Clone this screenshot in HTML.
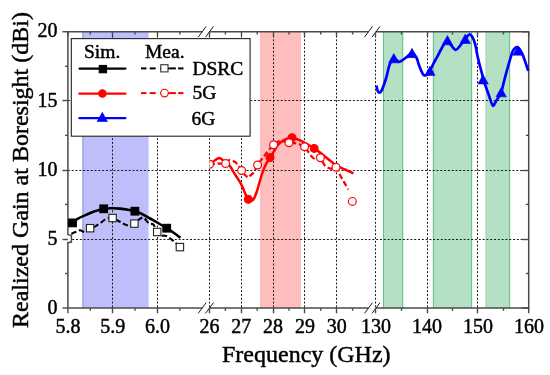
<!DOCTYPE html>
<html><head><meta charset="utf-8"><style>
html,body{margin:0;padding:0;background:#fff;overflow:hidden;}
svg{display:block;}
.t{font-family:"Liberation Serif","Times New Roman",serif;fill:#000;stroke:#000;stroke-width:0.45px;}
</style></head><body>
<svg width="550" height="375" viewBox="0 0 550 375">
<defs><clipPath id="c2"><rect x="209.5" y="0" width="159.0" height="375"/></clipPath></defs>
<rect width="550" height="375" fill="#fff"/>
<rect x="82.2" y="31.75" width="66.39999999999999" height="276.25" fill="#bebefa"/>
<line x1="83.0" y1="31.75" x2="83.0" y2="308.0" stroke="#9898d2" stroke-width="1"/>
<rect x="260.4" y="31.75" width="40.60000000000002" height="276.25" fill="#ffbebe"/>
<line x1="261" y1="31.75" x2="261" y2="308.0" stroke="#f9b0b0" stroke-width="1"/>
<rect x="383.0" y="31.75" width="20.19999999999999" height="276.25" fill="#b4e1c3"/>
<line x1="383.5" y1="31.75" x2="383.5" y2="308.0" stroke="#5ec485" stroke-width="1"/>
<line x1="402.7" y1="31.75" x2="402.7" y2="308.0" stroke="#5ec485" stroke-width="1"/>
<rect x="432.9" y="31.75" width="39.200000000000045" height="276.25" fill="#b4e1c3"/>
<line x1="433.4" y1="31.75" x2="433.4" y2="308.0" stroke="#5ec485" stroke-width="1"/>
<line x1="471.6" y1="31.75" x2="471.6" y2="308.0" stroke="#5ec485" stroke-width="1"/>
<rect x="485.6" y="31.75" width="24.5" height="276.25" fill="#b4e1c3"/>
<line x1="486.1" y1="31.75" x2="486.1" y2="308.0" stroke="#9fd8b2" stroke-width="1"/>
<line x1="509.6" y1="31.75" x2="509.6" y2="308.0" stroke="#5ec485" stroke-width="1"/>
<line x1="72.2" y1="239.5" x2="528.7" y2="239.5" stroke="#1a1a1a" stroke-width="1" stroke-dasharray="2 1.8"/>
<line x1="67.9" y1="170.5" x2="528.7" y2="170.5" stroke="#1a1a1a" stroke-width="1" stroke-dasharray="2 1.8"/>
<line x1="67.9" y1="100.5" x2="528.7" y2="100.5" stroke="#1a1a1a" stroke-width="1" stroke-dasharray="2 1.8"/>
<line x1="112.5" y1="31.75" x2="112.5" y2="308.0" stroke="#1a1a1a" stroke-width="1" stroke-dasharray="2 1.8"/>
<line x1="157.5" y1="31.75" x2="157.5" y2="308.0" stroke="#1a1a1a" stroke-width="1" stroke-dasharray="2 1.8"/>
<line x1="209.5" y1="31.75" x2="209.5" y2="308.0" stroke="#1a1a1a" stroke-width="1" stroke-dasharray="2 1.8"/>
<line x1="241.5" y1="31.75" x2="241.5" y2="308.0" stroke="#1a1a1a" stroke-width="1" stroke-dasharray="2 1.8"/>
<line x1="273.5" y1="31.75" x2="273.5" y2="308.0" stroke="#1a1a1a" stroke-width="1" stroke-dasharray="2 1.8"/>
<line x1="304.5" y1="31.75" x2="304.5" y2="308.0" stroke="#1a1a1a" stroke-width="1" stroke-dasharray="2 1.8"/>
<line x1="336.5" y1="31.75" x2="336.5" y2="308.0" stroke="#1a1a1a" stroke-width="1" stroke-dasharray="2 1.8"/>
<line x1="375.5" y1="31.75" x2="375.5" y2="308.0" stroke="#1a1a1a" stroke-width="1" stroke-dasharray="2 1.8"/>
<line x1="427.5" y1="31.75" x2="427.5" y2="308.0" stroke="#1a1a1a" stroke-width="1" stroke-dasharray="2 1.8"/>
<line x1="477.5" y1="31.75" x2="477.5" y2="308.0" stroke="#1a1a1a" stroke-width="1" stroke-dasharray="2 1.8"/>
<path d="M67.9,31.75 V234.7 L71.4,235.3 V242.1 L67.9,242.7 V308.0" fill="none" stroke="#4a4a4a" stroke-width="1.5"/>
<line x1="528.7" y1="31.75" x2="528.7" y2="308.0" stroke="#4a4a4a" stroke-width="1.5"/>
<line x1="67.25" y1="31.75" x2="202.20" y2="31.75" stroke="#4a4a4a" stroke-width="1.5"/>
<line x1="67.25" y1="308.0" x2="202.20" y2="308.0" stroke="#4a4a4a" stroke-width="1.5"/>
<line x1="209.50" y1="31.75" x2="368.50" y2="31.75" stroke="#4a4a4a" stroke-width="1.5"/>
<line x1="209.50" y1="308.0" x2="368.50" y2="308.0" stroke="#4a4a4a" stroke-width="1.5"/>
<line x1="376.00" y1="31.75" x2="529.35" y2="31.75" stroke="#4a4a4a" stroke-width="1.5"/>
<line x1="376.00" y1="308.0" x2="529.35" y2="308.0" stroke="#4a4a4a" stroke-width="1.5"/>
<line x1="198.20" y1="37.15" x2="206.20" y2="26.35" stroke="#1a1a1a" stroke-width="1.0"/>
<line x1="198.20" y1="313.40" x2="206.20" y2="302.60" stroke="#1a1a1a" stroke-width="1.0"/>
<line x1="205.50" y1="37.15" x2="213.50" y2="26.35" stroke="#1a1a1a" stroke-width="1.0"/>
<line x1="205.50" y1="313.40" x2="213.50" y2="302.60" stroke="#1a1a1a" stroke-width="1.0"/>
<line x1="364.50" y1="37.15" x2="372.50" y2="26.35" stroke="#1a1a1a" stroke-width="1.0"/>
<line x1="364.50" y1="313.40" x2="372.50" y2="302.60" stroke="#1a1a1a" stroke-width="1.0"/>
<line x1="372.00" y1="37.15" x2="380.00" y2="26.35" stroke="#1a1a1a" stroke-width="1.0"/>
<line x1="372.00" y1="313.40" x2="380.00" y2="302.60" stroke="#1a1a1a" stroke-width="1.0"/>
<line x1="67.90" y1="308.0" x2="67.90" y2="313.3" stroke="#4a4a4a" stroke-width="1.4"/>
<line x1="67.90" y1="31.75" x2="67.90" y2="36.25" stroke="#4a4a4a" stroke-width="1.4"/>
<line x1="112.50" y1="308.0" x2="112.50" y2="313.3" stroke="#4a4a4a" stroke-width="1.4"/>
<line x1="112.50" y1="31.75" x2="112.50" y2="36.25" stroke="#4a4a4a" stroke-width="1.4"/>
<line x1="157.50" y1="308.0" x2="157.50" y2="313.3" stroke="#4a4a4a" stroke-width="1.4"/>
<line x1="157.50" y1="31.75" x2="157.50" y2="36.25" stroke="#4a4a4a" stroke-width="1.4"/>
<line x1="209.50" y1="308.0" x2="209.50" y2="313.3" stroke="#4a4a4a" stroke-width="1.4"/>
<line x1="209.50" y1="31.75" x2="209.50" y2="36.25" stroke="#4a4a4a" stroke-width="1.4"/>
<line x1="241.50" y1="308.0" x2="241.50" y2="313.3" stroke="#4a4a4a" stroke-width="1.4"/>
<line x1="241.50" y1="31.75" x2="241.50" y2="36.25" stroke="#4a4a4a" stroke-width="1.4"/>
<line x1="273.50" y1="308.0" x2="273.50" y2="313.3" stroke="#4a4a4a" stroke-width="1.4"/>
<line x1="273.50" y1="31.75" x2="273.50" y2="36.25" stroke="#4a4a4a" stroke-width="1.4"/>
<line x1="304.50" y1="308.0" x2="304.50" y2="313.3" stroke="#4a4a4a" stroke-width="1.4"/>
<line x1="304.50" y1="31.75" x2="304.50" y2="36.25" stroke="#4a4a4a" stroke-width="1.4"/>
<line x1="336.50" y1="308.0" x2="336.50" y2="313.3" stroke="#4a4a4a" stroke-width="1.4"/>
<line x1="336.50" y1="31.75" x2="336.50" y2="36.25" stroke="#4a4a4a" stroke-width="1.4"/>
<line x1="375.50" y1="308.0" x2="375.50" y2="313.3" stroke="#4a4a4a" stroke-width="1.4"/>
<line x1="375.50" y1="31.75" x2="375.50" y2="36.25" stroke="#4a4a4a" stroke-width="1.4"/>
<line x1="427.50" y1="308.0" x2="427.50" y2="313.3" stroke="#4a4a4a" stroke-width="1.4"/>
<line x1="427.50" y1="31.75" x2="427.50" y2="36.25" stroke="#4a4a4a" stroke-width="1.4"/>
<line x1="477.50" y1="308.0" x2="477.50" y2="313.3" stroke="#4a4a4a" stroke-width="1.4"/>
<line x1="477.50" y1="31.75" x2="477.50" y2="36.25" stroke="#4a4a4a" stroke-width="1.4"/>
<line x1="528.70" y1="308.0" x2="528.70" y2="313.3" stroke="#4a4a4a" stroke-width="1.4"/>
<line x1="528.70" y1="31.75" x2="528.70" y2="36.25" stroke="#4a4a4a" stroke-width="1.4"/>
<line x1="90.28" y1="308.0" x2="90.28" y2="310.8" stroke="#4a4a4a" stroke-width="1.4"/>
<line x1="90.28" y1="31.75" x2="90.28" y2="34.55" stroke="#4a4a4a" stroke-width="1.4"/>
<line x1="135.05" y1="308.0" x2="135.05" y2="310.8" stroke="#4a4a4a" stroke-width="1.4"/>
<line x1="135.05" y1="31.75" x2="135.05" y2="34.55" stroke="#4a4a4a" stroke-width="1.4"/>
<line x1="179.82" y1="308.0" x2="179.82" y2="310.8" stroke="#4a4a4a" stroke-width="1.4"/>
<line x1="179.82" y1="31.75" x2="179.82" y2="34.55" stroke="#4a4a4a" stroke-width="1.4"/>
<line x1="225.40" y1="308.0" x2="225.40" y2="310.8" stroke="#4a4a4a" stroke-width="1.4"/>
<line x1="225.40" y1="31.75" x2="225.40" y2="34.55" stroke="#4a4a4a" stroke-width="1.4"/>
<line x1="257.20" y1="308.0" x2="257.20" y2="310.8" stroke="#4a4a4a" stroke-width="1.4"/>
<line x1="257.20" y1="31.75" x2="257.20" y2="34.55" stroke="#4a4a4a" stroke-width="1.4"/>
<line x1="289.00" y1="308.0" x2="289.00" y2="310.8" stroke="#4a4a4a" stroke-width="1.4"/>
<line x1="289.00" y1="31.75" x2="289.00" y2="34.55" stroke="#4a4a4a" stroke-width="1.4"/>
<line x1="320.80" y1="308.0" x2="320.80" y2="310.8" stroke="#4a4a4a" stroke-width="1.4"/>
<line x1="320.80" y1="31.75" x2="320.80" y2="34.55" stroke="#4a4a4a" stroke-width="1.4"/>
<line x1="352.60" y1="308.0" x2="352.60" y2="310.8" stroke="#4a4a4a" stroke-width="1.4"/>
<line x1="352.60" y1="31.75" x2="352.60" y2="34.55" stroke="#4a4a4a" stroke-width="1.4"/>
<line x1="401.50" y1="308.0" x2="401.50" y2="310.8" stroke="#4a4a4a" stroke-width="1.4"/>
<line x1="401.50" y1="31.75" x2="401.50" y2="34.55" stroke="#4a4a4a" stroke-width="1.4"/>
<line x1="452.50" y1="308.0" x2="452.50" y2="310.8" stroke="#4a4a4a" stroke-width="1.4"/>
<line x1="452.50" y1="31.75" x2="452.50" y2="34.55" stroke="#4a4a4a" stroke-width="1.4"/>
<line x1="503.50" y1="308.0" x2="503.50" y2="310.8" stroke="#4a4a4a" stroke-width="1.4"/>
<line x1="503.50" y1="31.75" x2="503.50" y2="34.55" stroke="#4a4a4a" stroke-width="1.4"/>
<line x1="62.400000000000006" y1="308.00" x2="67.9" y2="308.00" stroke="#4a4a4a" stroke-width="1.4"/>
<line x1="522.2" y1="308.00" x2="528.7" y2="308.00" stroke="#4a4a4a" stroke-width="1.4"/>
<line x1="62.400000000000006" y1="239.50" x2="67.9" y2="239.50" stroke="#4a4a4a" stroke-width="1.4"/>
<line x1="522.2" y1="239.50" x2="528.7" y2="239.50" stroke="#4a4a4a" stroke-width="1.4"/>
<line x1="62.400000000000006" y1="170.50" x2="67.9" y2="170.50" stroke="#4a4a4a" stroke-width="1.4"/>
<line x1="522.2" y1="170.50" x2="528.7" y2="170.50" stroke="#4a4a4a" stroke-width="1.4"/>
<line x1="62.400000000000006" y1="100.50" x2="67.9" y2="100.50" stroke="#4a4a4a" stroke-width="1.4"/>
<line x1="522.2" y1="100.50" x2="528.7" y2="100.50" stroke="#4a4a4a" stroke-width="1.4"/>
<line x1="62.400000000000006" y1="31.75" x2="67.9" y2="31.75" stroke="#4a4a4a" stroke-width="1.4"/>
<line x1="522.2" y1="31.75" x2="528.7" y2="31.75" stroke="#4a4a4a" stroke-width="1.4"/>
<line x1="65.10000000000001" y1="273.47" x2="67.9" y2="273.47" stroke="#4a4a4a" stroke-width="1.4"/>
<line x1="525.9000000000001" y1="273.47" x2="528.7" y2="273.47" stroke="#4a4a4a" stroke-width="1.4"/>
<line x1="65.10000000000001" y1="204.41" x2="67.9" y2="204.41" stroke="#4a4a4a" stroke-width="1.4"/>
<line x1="525.9000000000001" y1="204.41" x2="528.7" y2="204.41" stroke="#4a4a4a" stroke-width="1.4"/>
<line x1="65.10000000000001" y1="135.34" x2="67.9" y2="135.34" stroke="#4a4a4a" stroke-width="1.4"/>
<line x1="525.9000000000001" y1="135.34" x2="528.7" y2="135.34" stroke="#4a4a4a" stroke-width="1.4"/>
<line x1="65.10000000000001" y1="66.28" x2="67.9" y2="66.28" stroke="#4a4a4a" stroke-width="1.4"/>
<line x1="525.9000000000001" y1="66.28" x2="528.7" y2="66.28" stroke="#4a4a4a" stroke-width="1.4"/>
<path d="M71.30,233.80 C72.00,233.50 74.05,232.60 75.50,232.00 C76.95,231.40 78.42,230.20 80.00,230.20 C81.58,230.20 83.32,232.33 85.00,232.00 C86.68,231.67 88.43,229.10 90.10,228.20 C91.77,227.30 93.35,227.42 95.00,226.60 C96.65,225.78 98.10,224.60 100.00,223.30 C101.90,222.00 104.30,219.68 106.40,218.80 C108.50,217.92 110.67,217.68 112.60,218.00 C114.53,218.32 116.27,219.78 118.00,220.70 C119.73,221.62 121.50,222.75 123.00,223.50 C124.50,224.25 125.10,225.18 127.00,225.20 C128.90,225.22 132.40,224.55 134.40,223.60 C136.40,222.65 137.48,220.50 139.00,219.50 C140.52,218.50 142.17,217.27 143.50,217.60 C144.83,217.93 145.92,220.47 147.00,221.50 C148.08,222.53 148.92,223.28 150.00,223.80 C151.08,224.32 152.30,223.23 153.50,224.60 C154.70,225.97 155.78,230.18 157.20,232.00 C158.62,233.82 160.47,234.83 162.00,235.50 C163.53,236.17 165.07,235.50 166.40,236.00 C167.73,236.50 168.73,237.58 170.00,238.50 C171.27,239.42 172.35,240.07 174.00,241.50 C175.65,242.93 178.92,246.17 179.90,247.10" fill="none" stroke="#000" stroke-width="2.1" stroke-dasharray="5.5 2.8"/>
<path d="M72.50,222.90 C73.42,222.20 75.75,220.03 78.00,218.70 C80.25,217.37 83.33,216.08 86.00,214.90 C88.67,213.72 91.05,212.63 94.00,211.60 C96.95,210.57 100.70,209.27 103.70,208.70 C106.70,208.13 109.28,208.22 112.00,208.20 C114.72,208.18 117.33,208.35 120.00,208.60 C122.67,208.85 125.52,209.25 128.00,209.70 C130.48,210.15 132.57,210.58 134.90,211.30 C137.23,212.02 139.48,212.80 142.00,214.00 C144.52,215.20 147.33,217.00 150.00,218.50 C152.67,220.00 155.22,221.38 158.00,223.00 C160.78,224.62 164.03,226.53 166.70,228.20 C169.37,229.87 171.70,231.40 174.00,233.00 C176.30,234.60 179.42,237.00 180.50,237.80" fill="none" stroke="#000" stroke-width="2.6"/>
<rect x="68.70" y="219.10" width="7.6" height="7.6" fill="#000" stroke="#000" stroke-width="1.2"/>
<rect x="99.90" y="205.00" width="7.6" height="7.6" fill="#000" stroke="#000" stroke-width="1.2"/>
<rect x="131.10" y="207.40" width="7.6" height="7.6" fill="#000" stroke="#000" stroke-width="1.2"/>
<rect x="162.90" y="224.40" width="7.6" height="7.6" fill="#000" stroke="#000" stroke-width="1.2"/>
<rect x="86.40" y="224.50" width="7.4" height="7.4" fill="#fff" stroke="#222" stroke-width="1.1"/>
<rect x="108.90" y="214.30" width="7.4" height="7.4" fill="#fff" stroke="#222" stroke-width="1.1"/>
<rect x="130.70" y="219.90" width="7.4" height="7.4" fill="#fff" stroke="#222" stroke-width="1.1"/>
<rect x="153.50" y="228.30" width="7.4" height="7.4" fill="#fff" stroke="#222" stroke-width="1.1"/>
<rect x="176.20" y="243.40" width="7.4" height="7.4" fill="#fff" stroke="#222" stroke-width="1.1"/>
<g clip-path="url(#c2)">
<path d="M209.50,164.40 C210.75,164.25 214.32,163.63 217.00,163.50 C219.68,163.37 223.52,164.18 225.60,163.60 C227.68,163.02 228.00,160.30 229.50,160.00 C231.00,159.70 233.15,160.93 234.60,161.80 C236.05,162.67 237.07,163.73 238.20,165.20 C239.33,166.67 240.43,169.13 241.40,170.60 C242.37,172.07 242.87,172.87 244.00,174.00 C245.13,175.13 247.17,177.13 248.20,177.40 C249.23,177.67 249.27,176.47 250.20,175.60 C251.13,174.73 252.57,173.97 253.80,172.20 C255.03,170.43 255.73,167.87 257.60,165.00 C259.47,162.13 262.33,158.37 265.00,155.00 C267.67,151.63 270.93,147.13 273.60,144.80 C276.27,142.47 278.43,141.37 281.00,141.00 C283.57,140.63 286.33,142.18 289.00,142.60 C291.67,143.02 294.40,142.80 297.00,143.50 C299.60,144.20 302.63,145.30 304.60,146.80 C306.57,148.30 307.30,150.58 308.80,152.50 C310.30,154.42 312.23,157.72 313.60,158.30 C314.97,158.88 315.87,156.08 317.00,156.00 C318.13,155.92 319.15,156.30 320.40,157.80 C321.65,159.30 322.80,163.20 324.50,165.00 C326.20,166.80 328.68,168.23 330.60,168.60 C332.52,168.97 334.43,166.13 336.00,167.20 C337.57,168.27 338.67,172.53 340.00,175.00 C341.33,177.47 342.62,179.58 344.00,182.00 C345.38,184.42 347.58,188.25 348.30,189.50" fill="none" stroke="#ff0000" stroke-width="2.3" stroke-dasharray="5.5 2.8" stroke-dashoffset="0"/>
<path d="M209.50,163.50 C210.25,163.08 212.37,161.93 214.00,161.00 C215.63,160.07 217.63,157.85 219.30,157.90 C220.97,157.95 222.30,160.03 224.00,161.30 C225.70,162.57 227.60,163.22 229.50,165.50 C231.40,167.78 233.48,171.95 235.40,175.00 C237.32,178.05 239.40,180.80 241.00,183.80 C242.60,186.80 243.83,190.42 245.00,193.00 C246.17,195.58 246.93,198.03 248.00,199.30 C249.07,200.57 250.40,200.73 251.40,200.60 C252.40,200.47 253.07,200.10 254.00,198.50 C254.93,196.90 256.07,193.75 257.00,191.00 C257.93,188.25 258.67,185.10 259.60,182.00 C260.53,178.90 261.53,175.40 262.60,172.40 C263.67,169.40 264.77,166.43 266.00,164.00 C267.23,161.57 267.93,161.05 270.00,157.80 C272.07,154.55 275.90,147.53 278.40,144.50 C280.90,141.47 282.73,140.75 285.00,139.60 C287.27,138.45 289.50,137.47 292.00,137.60 C294.50,137.73 297.50,139.30 300.00,140.40 C302.50,141.50 304.63,142.87 307.00,144.20 C309.37,145.53 311.20,146.35 314.20,148.40 C317.20,150.45 321.37,153.68 325.00,156.50 C328.63,159.32 332.67,163.13 336.00,165.30 C339.33,167.47 342.08,168.17 345.00,169.50 C347.92,170.83 352.08,172.67 353.50,173.30" fill="none" stroke="#ff0000" stroke-width="2.5"/>
<circle cx="248.30" cy="199.30" r="3.9" fill="#ff0000" stroke="#ff0000" stroke-width="1.2"/>
<circle cx="270.00" cy="157.60" r="3.9" fill="#ff0000" stroke="#ff0000" stroke-width="1.2"/>
<circle cx="292.00" cy="137.70" r="3.9" fill="#ff0000" stroke="#ff0000" stroke-width="1.2"/>
<circle cx="314.20" cy="148.40" r="3.9" fill="#ff0000" stroke="#ff0000" stroke-width="1.2"/>
<circle cx="209.50" cy="164.20" r="3.9" fill="#fff" stroke="#ff0000" stroke-width="1.2"/>
<circle cx="225.60" cy="163.60" r="3.9" fill="#fff" stroke="#ff0000" stroke-width="1.2"/>
<circle cx="241.60" cy="170.50" r="3.9" fill="#fff" stroke="#ff0000" stroke-width="1.2"/>
<circle cx="257.60" cy="165.00" r="3.9" fill="#fff" stroke="#ff0000" stroke-width="1.2"/>
<circle cx="273.60" cy="144.80" r="3.9" fill="#fff" stroke="#ff0000" stroke-width="1.2"/>
<circle cx="289.00" cy="142.70" r="3.9" fill="#fff" stroke="#ff0000" stroke-width="1.2"/>
<circle cx="304.60" cy="146.80" r="3.9" fill="#fff" stroke="#ff0000" stroke-width="1.2"/>
<circle cx="320.40" cy="157.80" r="3.9" fill="#fff" stroke="#ff0000" stroke-width="1.2"/>
<circle cx="336.00" cy="167.20" r="3.9" fill="#fff" stroke="#ff0000" stroke-width="1.2"/>
<circle cx="352.30" cy="201.40" r="3.9" fill="#fff" stroke="#ff0000" stroke-width="1.2"/>
</g>
<path d="M376.40,85.70 C376.67,86.67 377.20,90.57 378.00,91.50 C378.80,92.43 379.87,93.47 381.20,91.30 C382.53,89.13 384.62,82.88 386.00,78.50 C387.38,74.12 388.20,68.33 389.50,65.00 C390.80,61.67 392.28,59.03 393.80,58.50 C395.32,57.97 397.20,61.48 398.60,61.80 C400.00,62.12 400.80,61.23 402.20,60.40 C403.60,59.57 405.37,58.03 407.00,56.80 C408.63,55.57 410.40,52.80 412.00,53.00 C413.60,53.20 415.43,55.97 416.60,58.00 C417.77,60.03 418.00,62.60 419.00,65.20 C420.00,67.80 421.70,71.90 422.60,73.60 C423.50,75.30 423.60,75.23 424.40,75.40 C425.20,75.57 426.47,75.40 427.40,74.60 C428.33,73.80 428.90,72.62 430.00,70.60 C431.10,68.58 432.73,64.90 434.00,62.50 C435.27,60.10 436.43,58.37 437.60,56.20 C438.77,54.03 439.87,51.62 441.00,49.50 C442.13,47.38 443.33,45.00 444.40,43.50 C445.47,42.00 446.30,40.25 447.40,40.50 C448.50,40.75 449.60,43.43 451.00,45.00 C452.40,46.57 454.25,49.83 455.80,49.90 C457.35,49.97 458.73,47.22 460.30,45.40 C461.87,43.58 463.62,40.83 465.20,39.00 C466.78,37.17 468.40,34.32 469.80,34.40 C471.20,34.48 472.60,37.40 473.60,39.50 C474.60,41.60 475.18,44.42 475.80,47.00 C476.42,49.58 476.80,52.58 477.30,55.00 C477.80,57.42 478.25,59.25 478.80,61.50 C479.35,63.75 480.03,66.33 480.60,68.50 C481.17,70.67 481.75,72.70 482.20,74.50 C482.65,76.30 482.78,77.50 483.30,79.30 C483.82,81.10 484.40,82.73 485.30,85.30 C486.20,87.87 487.47,91.35 488.70,94.70 C489.93,98.05 491.48,104.30 492.70,105.40 C493.92,106.50 494.58,103.48 496.00,101.30 C497.42,99.12 499.87,95.63 501.20,92.30 C502.53,88.97 502.87,85.57 504.00,81.30 C505.13,77.03 506.55,71.70 508.00,66.70 C509.45,61.70 511.37,54.53 512.70,51.30 C514.03,48.07 515.12,47.92 516.00,47.30 C516.88,46.68 517.45,47.37 518.00,47.60 C518.55,47.83 518.52,47.52 519.30,48.70 C520.08,49.88 521.22,51.03 522.70,54.70 C524.18,58.37 527.28,68.03 528.20,70.70" fill="none" stroke="#0000ff" stroke-width="2.7" stroke-linejoin="round"/>
<polygon points="388.60,62.85 399.00,62.85 393.80,53.55" fill="#0000ff" stroke="#0000ff" stroke-width="0.6" stroke-linejoin="round"/>
<polygon points="406.80,57.65 417.20,57.65 412.00,48.35" fill="#0000ff" stroke="#0000ff" stroke-width="0.6" stroke-linejoin="round"/>
<polygon points="424.80,75.45 435.20,75.45 430.00,66.15" fill="#0000ff" stroke="#0000ff" stroke-width="0.6" stroke-linejoin="round"/>
<polygon points="442.20,44.85 452.60,44.85 447.40,35.55" fill="#0000ff" stroke="#0000ff" stroke-width="0.6" stroke-linejoin="round"/>
<polygon points="460.00,43.45 470.40,43.45 465.20,34.15" fill="#0000ff" stroke="#0000ff" stroke-width="0.6" stroke-linejoin="round"/>
<polygon points="477.90,83.95 488.30,83.95 483.10,74.65" fill="#0000ff" stroke="#0000ff" stroke-width="0.6" stroke-linejoin="round"/>
<polygon points="496.00,96.85 506.40,96.85 501.20,87.55" fill="#0000ff" stroke="#0000ff" stroke-width="0.6" stroke-linejoin="round"/>
<polygon points="512.80,55.15 523.20,55.15 518.00,45.85" fill="#0000ff" stroke="#0000ff" stroke-width="0.6" stroke-linejoin="round"/>
<rect x="71.3" y="38.6" width="178.8" height="97.6" fill="#fff" stroke="#2a2a2a" stroke-width="1.15"/>
<text x="84" y="58.1" font-size="19.5" class="t">Sim.</text>
<text x="145" y="57.9" font-size="19.5" class="t">Mea.</text>
<text x="192.4" y="75" font-size="19.5" class="t">DSRC</text>
<text x="192.6" y="99.4" font-size="19.5" class="t">5G</text>
<text x="191.6" y="124.8" font-size="19.5" class="t">6G</text>
<line x1="79.6" y1="68.6" x2="125.4" y2="68.6" stroke="#000" stroke-width="2.3" stroke-linecap="round"/>
<rect x="99.30" y="65.50" width="7.2" height="7.2" fill="#000" stroke="#000" stroke-width="1.2"/>
<line x1="141" y1="68.4" x2="146.5" y2="68.4" stroke="#000" stroke-width="2"/>
<line x1="149.7" y1="68.4" x2="155.7" y2="68.4" stroke="#000" stroke-width="2"/>
<line x1="160" y1="68.4" x2="169.9" y2="68.4" stroke="#000" stroke-width="2"/>
<line x1="169.9" y1="68.4" x2="175.9" y2="68.4" stroke="#000" stroke-width="2"/>
<line x1="178.1" y1="68.4" x2="183.5" y2="68.4" stroke="#000" stroke-width="2"/>
<rect x="160.80" y="64.70" width="7.2" height="7.2" fill="#fff" stroke="#333" stroke-width="1.1"/>
<line x1="79.4" y1="93.7" x2="125.4" y2="93.7" stroke="#ff0000" stroke-width="2.3" stroke-linecap="round"/>
<circle cx="102.40" cy="93.50" r="3.7" fill="#ff0000" stroke="#ff0000" stroke-width="1.2"/>
<line x1="141" y1="93.1" x2="146.5" y2="93.1" stroke="#ff0000" stroke-width="2"/>
<line x1="149.7" y1="93.1" x2="155.7" y2="93.1" stroke="#ff0000" stroke-width="2"/>
<line x1="160" y1="93.1" x2="169.9" y2="93.1" stroke="#ff0000" stroke-width="2"/>
<line x1="169.9" y1="93.1" x2="175.9" y2="93.1" stroke="#ff0000" stroke-width="2"/>
<line x1="178.1" y1="93.1" x2="183.5" y2="93.1" stroke="#ff0000" stroke-width="2"/>
<circle cx="164.50" cy="93.10" r="3.8" fill="#fff" stroke="#ff0000" stroke-width="1.1"/>
<line x1="79.4" y1="118.1" x2="125.4" y2="118.1" stroke="#0000ff" stroke-width="2.3" stroke-linecap="round"/>
<polygon points="97.10,121.50 107.50,121.50 102.30,112.30" fill="#0000ff" stroke="#0000ff" stroke-width="0.6" stroke-linejoin="round"/>
<text x="67.90" y="333.0" font-size="20" text-anchor="middle" class="t">5.8</text>
<text x="112.67" y="333.0" font-size="20" text-anchor="middle" class="t">5.9</text>
<text x="157.43" y="333.0" font-size="20" text-anchor="middle" class="t">6.0</text>
<text x="209.50" y="333.0" font-size="20" text-anchor="middle" class="t">26</text>
<text x="241.30" y="333.0" font-size="20" text-anchor="middle" class="t">27</text>
<text x="273.10" y="333.0" font-size="20" text-anchor="middle" class="t">28</text>
<text x="304.90" y="333.0" font-size="20" text-anchor="middle" class="t">29</text>
<text x="336.70" y="333.0" font-size="20" text-anchor="middle" class="t">30</text>
<text x="376.00" y="333.0" font-size="20" text-anchor="middle" class="t">130</text>
<text x="427.00" y="333.0" font-size="20" text-anchor="middle" class="t">140</text>
<text x="478.00" y="333.0" font-size="20" text-anchor="middle" class="t">150</text>
<text x="529.00" y="333.0" font-size="20" text-anchor="middle" class="t">160</text>
<text x="57.5" y="313.70" font-size="20" text-anchor="end" class="t">0</text>
<text x="57.5" y="244.64" font-size="20" text-anchor="end" class="t">5</text>
<text x="57.5" y="175.57" font-size="20" text-anchor="end" class="t">10</text>
<text x="57.5" y="106.51" font-size="20" text-anchor="end" class="t">15</text>
<text x="57.5" y="37.45" font-size="20" text-anchor="end" class="t">20</text>
<text x="222" y="361.9" font-size="24" class="t">Frequency (GHz)</text>
<text transform="translate(28.4,328) rotate(-90)" x="0" y="0" font-size="24" class="t">Realized Gain at Boresight (dBi)</text>
</svg>
</body></html>
